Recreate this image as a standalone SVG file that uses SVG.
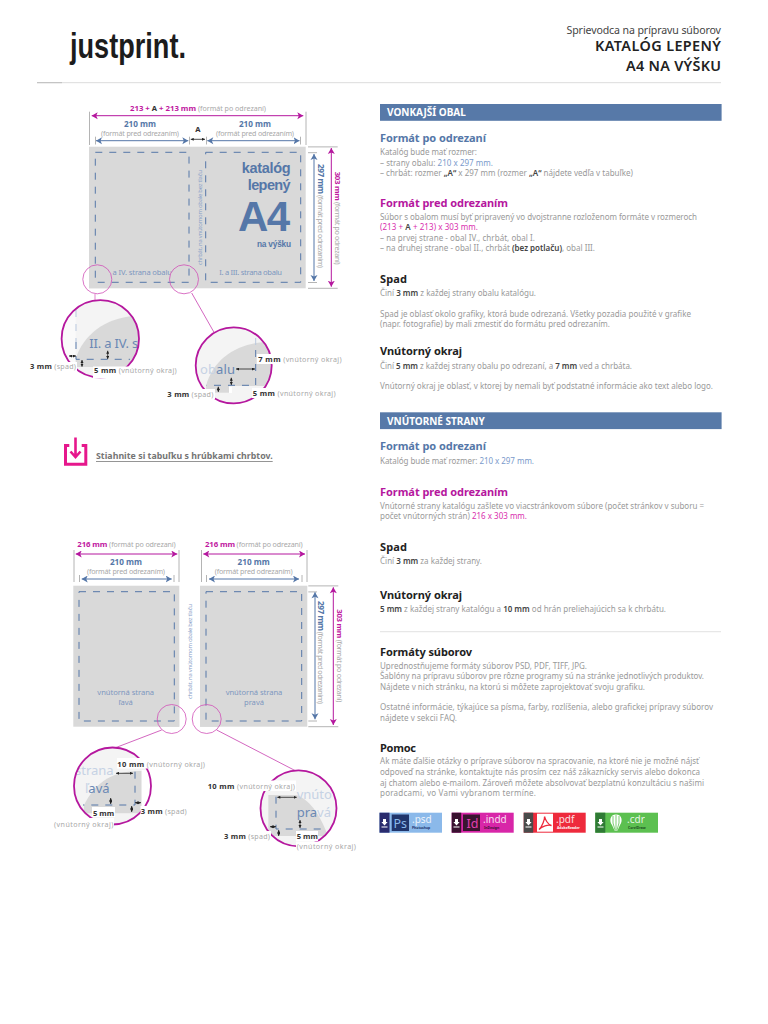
<svg xmlns="http://www.w3.org/2000/svg" width="768" height="1024" viewBox="0 0 768 1024">
<style>
text{font-family:"Noto Sans","Liberation Sans",sans-serif}
.b{font-size:8px;fill:#999}
.hb{font-size:11px;font-weight:700;fill:#5577a8}
.hm{font-size:11px;font-weight:700;fill:#b5179e}
.hd{font-size:11px;font-weight:700;fill:#222}
.bar{fill:#5779a8}
.bt{font-size:10px;font-weight:700;fill:#fff}
.k{fill:#444;font-weight:600}
.bl{fill:#7a9acb}
.mg{fill:#d92fae}
.lb{font-size:7.1px;fill:#a8a8a8}
.lk{fill:#333;font-weight:700;font-size:7.6px}
.dm{fill:#c0189f;font-weight:700;font-size:7.8px}
.db{fill:#5577a8;font-weight:700;font-size:8.2px}
.sheet{fill:#d9d9d9}
.dash{fill:none;stroke:#5577a8;stroke-width:1;stroke-dasharray:7 7}
.dashl{fill:none;stroke:#b9c8de;stroke-width:1;stroke-dasharray:7 7}
.sl{font-size:7.6px;fill:#7d97bf}
.sp{font-size:6px;fill:#8aa2c8}
.tick{stroke:#b4b4b4;stroke-width:1;fill:none}
.am{stroke:#b5179e;stroke-width:1;fill:none;marker-start:url(#ms);marker-end:url(#me)}
.ab{stroke:#5577a8;stroke-width:1;fill:none;marker-start:url(#bs);marker-end:url(#be)}
.ak{stroke:#222;stroke-width:.8;fill:none;marker-start:url(#ks);marker-end:url(#ke)}
.sc{fill:none;stroke:#d050b8;stroke-width:.8}
.bc{fill:none;stroke:#b5179e;stroke-width:1.8}
.cn{fill:none;stroke:#c840b0;stroke-width:.8}
.z{font-size:13px;fill:#6a88b4}
.zf{fill:#c6d2e4}
.w{fill:#fff}
.ext{font-size:10px;fill:#fff;opacity:.85}
.tiny{font-size:3.4px;font-weight:700}
.big{font-family:"Liberation Sans",sans-serif;font-weight:700;fill:#5577a8;text-anchor:end}
</style>
<defs>
<marker id="me" markerUnits="userSpaceOnUse" markerWidth="8" markerHeight="8" refX="6" refY="3.5" orient="auto"><path d="M0 0L6 3.5L0 7L1.5 3.5Z" fill="#b5179e"/></marker>
<marker id="ms" markerUnits="userSpaceOnUse" markerWidth="8" markerHeight="8" refX="0" refY="3.5" orient="auto"><path d="M6 0L0 3.5L6 7L4.5 3.5Z" fill="#b5179e"/></marker>
<marker id="be" markerUnits="userSpaceOnUse" markerWidth="8" markerHeight="8" refX="6" refY="3.5" orient="auto"><path d="M0 0L6 3.5L0 7L1.5 3.5Z" fill="#5577a8"/></marker>
<marker id="bs" markerUnits="userSpaceOnUse" markerWidth="8" markerHeight="8" refX="0" refY="3.5" orient="auto"><path d="M6 0L0 3.5L6 7L4.5 3.5Z" fill="#5577a8"/></marker>
<marker id="ke" markerUnits="userSpaceOnUse" markerWidth="5" markerHeight="5" refX="3" refY="1.5" orient="auto"><path d="M0 0L3 1.5L0 3Z" fill="#222"/></marker>
<marker id="ks" markerUnits="userSpaceOnUse" markerWidth="5" markerHeight="5" refX="0" refY="1.5" orient="auto"><path d="M3 0L0 1.5L3 3Z" fill="#222"/></marker>
<clipPath id="s1"><rect x="89" y="146.7" width="216.7" height="141.6"/></clipPath>
<clipPath id="s2"><rect x="73.3" y="585.7" width="106" height="141"/></clipPath>
<clipPath id="s3"><rect x="200" y="585.7" width="107.3" height="141"/></clipPath>
<clipPath id="c1"><circle cx="100.3" cy="338.8" r="38.7"/></clipPath>
<clipPath id="c2"><circle cx="233.7" cy="365.4" r="38"/></clipPath>
<clipPath id="c3"><circle cx="112.5" cy="786" r="38.5"/></clipPath>
<clipPath id="c4"><circle cx="298.5" cy="808.3" r="38"/></clipPath>
</defs>

<g id="header">
<text x="70" y="58" font-size="35" font-weight="700" fill="#1c1c1c" textLength="116" lengthAdjust="spacingAndGlyphs" style="font-family:'Liberation Sans',sans-serif">justprint.</text>
<text x="721" y="34" text-anchor="end" font-size="10.6" fill="#444" textLength="154.500">Sprievodca na prípravu súborov</text>
<text x="721" y="51" text-anchor="end" font-size="14.4" font-weight="600" fill="#222" textLength="126">KATALÓG LEPENÝ</text>
<text x="721" y="70.500" text-anchor="end" font-size="14.4" font-weight="600" fill="#222" textLength="95">A4 NA VÝŠKU</text>
<rect x="37" y="82" width="684" height="1.2" fill="#e2e2e2"/>
<rect x="37" y="82" width="25" height="1.2" fill="#c4c4c4"/>
</g>

<g id="text-outer">
<rect class="bar" x="380" y="104" width="341.6" height="16.8"/>
<text class="bt" x="387" y="116">VONKAJŠÍ OBAL</text>
<text class="hb" x="380" y="141.500" textLength="106">Formát po odrezaní</text>
<text class="b" x="380" y="155" textLength="97">Katalóg bude mať rozmer:</text>
<text class="b" x="380" y="165.500" textLength="113">– strany obalu: <tspan class="bl">210 x 297 mm.</tspan></text>
<text class="b" x="380" y="176" textLength="253">– chrbát: rozmer <tspan class="k">„A“</tspan> x 297 mm (rozmer <tspan class="k">„A“</tspan> nájdete vedľa v tabuľke)</text>
<text class="hm" x="380" y="206.700" textLength="128">Formát pred odrezaním</text>
<text class="b" x="380" y="220" textLength="317">Súbor s obalom musí byť pripravený vo dvojstranne rozloženom formáte v rozmeroch</text>
<text class="b" x="380" y="230" textLength="98"><tspan class="mg">(213 + </tspan><tspan class="k">A</tspan><tspan class="mg"> + 213) x 303 mm.</tspan></text>
<text class="b" x="380" y="240.500" textLength="155">– na prvej strane - obal IV., chrbát, obal I.</text>
<text class="b" x="380" y="251" textLength="215">– na druhej strane - obal II., chrbát <tspan class="k">(bez potlaču)</tspan>, obal III.</text>
<text class="hd" x="380" y="282.700" textLength="27">Spad</text>
<text class="b" x="380" y="296" textLength="156">Činí <tspan class="k">3 mm</tspan> z každej strany obalu katalógu.</text>
<text class="b" x="380" y="316.700" textLength="311">Spad je oblasť okolo grafiky, ktorá bude odrezaná. Všetky pozadia použité v grafike</text>
<text class="b" x="380" y="327" textLength="230">(napr. fotografie) by mali zmestiť do formátu pred odrezaním.</text>
<text class="hd" x="380" y="355" textLength="82">Vnútorný okraj</text>
<text class="b" x="380" y="369" textLength="252">Činí <tspan class="k">5 mm</tspan> z každej strany obalu po odrezaní, a <tspan class="k">7 mm</tspan> ved a chrbáta.</text>
<text class="b" x="380" y="389" textLength="333">Vnútorný okraj je oblasť, v ktorej by nemali byť podstatné informácie ako text alebo logo.</text>
</g>

<g id="text-inner">
<rect class="bar" x="380" y="412.3" width="341.6" height="16.8"/>
<text class="bt" x="387" y="425">VNÚTORNÉ STRANY</text>
<text class="hb" x="380" y="450" textLength="106">Formát po odrezaní</text>
<text class="b" x="380" y="464" textLength="154">Katalóg bude mať rozmer: <tspan class="bl">210 x 297 mm.</tspan></text>
<text class="hm" x="380" y="495.700" textLength="128">Formát pred odrezaním</text>
<text class="b" x="380" y="509" textLength="324">Vnútorné strany katalógu zašlete vo viacstránkovom súbore (počet stránkov v suboru =</text>
<text class="b" x="380" y="519.300" textLength="147">počet vnútorných strán) <tspan class="mg">216 x 303 mm.</tspan></text>
<text class="hd" x="380" y="550.700" textLength="27">Spad</text>
<text class="b" x="380" y="564" textLength="102">Činí <tspan class="k">3 mm</tspan> za každej strany.</text>
<text class="hd" x="380" y="599" textLength="82">Vnútorný okraj</text>
<text class="b" x="380" y="612.300" textLength="286"><tspan class="k">5 mm</tspan> z každej strany katalógu a <tspan class="k">10 mm</tspan> od hrán preliehajúcich sa k chrbátu.</text>
<rect x="380" y="631.200" width="341" height="1" fill="#e2e2e2"/>
<text class="hd" x="380" y="655.700" textLength="92">Formáty súborov</text>
<text class="b" x="380" y="669" textLength="207">Uprednostňujeme formáty súborov PSD, PDF, TIFF, JPG.</text>
<text class="b" x="380" y="679.300" textLength="324">Šablóny na prípravu súborov pre rôzne programy sú na stránke jednotlivých produktov.</text>
<text class="b" x="380" y="690" textLength="265">Nájdete v nich stránku, na ktorú si môžete zaprojektovať svoju grafiku.</text>
<text class="b" x="380" y="710" textLength="333">Ostatné informácie, týkajúce sa písma, farby, rozlíšenia, alebo grafickej prípravy súborov</text>
<text class="b" x="380" y="720.700" textLength="77">nájdete v sekcii FAQ.</text>
<text class="hd" x="380" y="751.700" textLength="36">Pomoc</text>
<text class="b" x="380" y="764.300" textLength="319">Ak máte ďalšie otázky o príprave súborov na spracovanie, na ktoré nie je možné nájsť</text>
<text class="b" x="380" y="775" textLength="320">odpoveď na stránke, kontaktujte nás prosím cez náš zákaznícky servis alebo dokonca</text>
<text class="b" x="380" y="785.700" textLength="324">aj chatom alebo e-mailom. Zároveň môžete absolvovať bezplatnú konzultáciu s našimi</text>
<text class="b" x="380" y="796.300" textLength="156">poradcami, vo Vami vybranom termíne.</text>
</g>

<g id="icon-psd">
<rect x="379.500" y="812.700" width="62.500" height="20" fill="#8bb9ea"/>
<rect x="379.500" y="812.700" width="10" height="20" fill="#2a2c6e"/>
<path d="M383 819h3v3h1.600l-3.100 3.400-3.100-3.400H383zM381.500 826.500h6v1h-6z" fill="#fff"/>
<rect x="391.700" y="814.500" width="17.300" height="16.500" fill="#20356b"/>
<text x="393.500" y="827.500" font-size="12.500" fill="#8bb9ea">Ps</text>
<text class="ext" x="412" y="823">.psd</text>
<text class="tiny" x="412" y="829" fill="#20356b">Photoshop</text>
</g>
<g id="icon-indd">
<rect x="451.700" y="812.700" width="62" height="20" fill="#d826a8"/>
<rect x="451.700" y="812.700" width="9.500" height="20" fill="#3a1030"/>
<path d="M455 819h3v3h1.600l-3.100 3.400-3.100-3.400H455zM453.500 826.500h6v1h-6z" fill="#fff"/>
<rect x="463" y="814.500" width="17" height="16.500" fill="#3a1530"/>
<text x="466.500" y="827.500" font-size="12.500" fill="#e040b0">Id</text>
<text class="ext" x="483" y="823">.indd</text>
<text class="tiny" x="484" y="829" fill="#3a1030">InDesign</text>
</g>
<g id="icon-pdf">
<rect x="523.700" y="812.700" width="62" height="20" fill="#ee2a3c"/>
<rect x="523.700" y="812.700" width="9.500" height="20" fill="#4a4a4a"/>
<path d="M527 819h3v3h1.600l-3.100 3.400-3.100-3.400H527zM525.500 826.500h6v1h-6z" fill="#fff"/>
<rect x="537" y="813.700" width="16" height="18" fill="#fff"/>
<path d="M539 829.500C542 827 545 819 544.500 816.500C545 819 548 825 551.500 825.500C548 824.500 542 826 539 829.500Z" fill="none" stroke="#ee2a3c" stroke-width="1.300"/>
<text class="ext" x="556" y="823">.pdf</text>
<text class="tiny" x="557" y="829" fill="#fff">AdobeReader</text>
</g>
<g id="icon-cdr">
<rect x="595.300" y="812.700" width="62.700" height="20" fill="#5cc050"/>
<rect x="595.300" y="812.700" width="10" height="20" fill="#2f7a35"/>
<path d="M599 819h3v3h1.600l-3.100 3.400-3.100-3.400H599zM597.500 826.500h6v1h-6z" fill="#fff"/>
<path d="M616 814.500C610 814.500 609 821 612 825L614.500 830.500H617.500L620 825C623 821 622 814.500 616 814.500Z" fill="#fff"/>
<path d="M616 815V830M613 816Q612 823 615 830M619 816Q620 823 617 830" fill="none" stroke="#5cc050" stroke-width=".8"/>
<text class="ext" x="627" y="823">.cdr</text>
<text class="tiny" x="628" y="829" fill="#1d4d22">CorelDraw</text>
</g>

<g id="sheet-cover">
<rect class="sheet" x="89" y="146.700" width="216.700" height="141.600"/>
<text class="sl" x="104" y="275" textLength="68">II. a IV. strana obalu</text>
<text class="sl" x="219.300" y="275" textLength="62.700">I. a III. strana obalu</text>
<circle cx="97.300" cy="279.300" r="14.500" fill="#d9d9d9" clip-path="url(#s1)"/>
<circle cx="184" cy="279.300" r="14.500" fill="#d9d9d9" clip-path="url(#s1)"/>
<rect class="dash" x="95.300" y="152.300" width="93.700" height="130"/>
<rect class="dash" x="205.700" y="152.300" width="95" height="130"/>
<text class="big" x="290.700" y="173.300" font-size="14.500" textLength="49">katalóg</text>
<text class="big" x="290.700" y="190" font-size="14.500" textLength="43">lepený</text>
<text class="big" x="290" y="230.700" font-size="42" textLength="52">A4</text>
<text class="big" x="291" y="247.300" font-size="8.300" textLength="34">na výšku</text>
<text class="sp" transform="translate(201.500 265) rotate(-90)" textLength="95">chrbát, na vnútornom obale bez tlaču</text>
</g>

<g id="dim-cover">
<path class="tick" d="M89.500 111.700V145M306 111.700V145M95.500 136.700V144.500M189.500 136.700V144.500M206.500 136.700V144.500M300.500 136.700V144.500M308 146.900H337.700M308 288.300H337.700M308 152.700H317M308 282.500H317"/>
<line class="am" x1="91.700" y1="115.700" x2="303.300" y2="115.700"/>
<line class="ab" x1="96" y1="140.700" x2="188.300" y2="140.700"/>
<line class="ab" x1="207.300" y1="140.700" x2="299.500" y2="140.700"/>
<line class="ak" x1="190.700" y1="139.300" x2="205" y2="139.300"/>
<line class="ab" x1="314" y1="154" x2="314" y2="281"/>
<line class="am" x1="331.300" y1="148" x2="331.300" y2="286.700"/>
<text class="lb" x="130" y="110.700" textLength="136"><tspan class="dm">213 + </tspan><tspan class="lk">A</tspan><tspan class="dm"> + 213 mm</tspan> (formát po odrezaní)</text>
<text class="db" x="140" y="126.700" text-anchor="middle">210 mm</text>
<text class="lb" x="140" y="135.700" text-anchor="middle" textLength="78">(formát pred odrezaním)</text>
<text class="db" x="255" y="126.700" text-anchor="middle">210 mm</text>
<text class="lb" x="255" y="135.700" text-anchor="middle" textLength="78">(formát pred odrezaním)</text>
<text class="lk" x="198" y="132.300" text-anchor="middle">A</text>
<text class="lb" transform="translate(317.500 164) rotate(90)" textLength="104"><tspan class="db">297 mm</tspan> (formát pred odrezaním)</text>
<text class="lb" transform="translate(334.500 171.700) rotate(90)" textLength="93"><tspan class="dm">303 mm</tspan> (formát po odrezaní)</text>
</g>

<g id="download">
<path d="M69.300 445.500H65.500V464.200H85.800V445.500H81.700" fill="none" stroke="#e6178c" stroke-width="3"/>
<path d="M75.500 437.500V456.500M70.500 451.500L75.500 457L80.500 451.500" fill="none" stroke="#e6178c" stroke-width="2.600"/>
<text x="96" y="459" font-size="8.800" font-weight="700" fill="#757575" textLength="176.700">Stiahnite si tabuľku s hrúbkami chrbtov.</text>
<rect x="96" y="461" width="176.700" height=".9" fill="#8a8a8a"/>
</g>

<g id="sheet-left">
<rect class="sheet" x="73.300" y="585.700" width="106" height="141"/>
<text class="sl" x="125.700" y="695" text-anchor="middle" textLength="56.700">vnútorná strana</text>
<text class="sl" x="125.700" y="705" text-anchor="middle">ľavá</text>
<circle cx="171.700" cy="719" r="14.500" fill="#d9d9d9" clip-path="url(#s2)"/>
<rect class="dash" x="79" y="591.700" width="95.300" height="129.300"/>
</g>
<g id="sheet-right">
<rect class="sheet" x="200" y="585.700" width="107.300" height="141"/>
<text class="sl" x="254" y="695" text-anchor="middle" textLength="56.700">vnútorná strana</text>
<text class="sl" x="254" y="705" text-anchor="middle">pravá</text>
<circle cx="206.700" cy="719" r="14.500" fill="#d9d9d9" clip-path="url(#s3)"/>
<rect class="dash" x="206" y="591.700" width="95.700" height="129.300"/>
</g>
<text class="sp" transform="translate(191.700 699) rotate(-90)" textLength="95">chrbát, na vnútornom obale bez tlaču</text>

<g id="dim-inner">
<path class="tick" d="M74 550V582M179 550V582M201.500 550V582M307 550V582M79.500 575V582M174 575V582M206.500 575V582M302 575V582M308.300 585.900H338.300M308.300 726.700H338.300M308.300 591.900H317M308.300 721H317"/>
<line class="am" x1="75.700" y1="554" x2="177.300" y2="554"/>
<line class="am" x1="203.300" y1="554" x2="305" y2="554"/>
<line class="ab" x1="81.700" y1="579" x2="171.700" y2="579"/>
<line class="ab" x1="209" y1="579" x2="299" y2="579"/>
<line class="ab" x1="315" y1="592.300" x2="315" y2="719.300"/>
<line class="am" x1="333.300" y1="587.300" x2="333.300" y2="725"/>
<text class="lb" x="77.300" y="546.700" textLength="98.400"><tspan class="dm">216 mm</tspan> (formát po odrezaní)</text>
<text class="lb" x="205" y="546.700" textLength="97.700"><tspan class="dm">216 mm</tspan> (formát po odrezaní)</text>
<text class="db" x="126" y="564.700" text-anchor="middle">210 mm</text>
<text class="lb" x="126" y="574.300" text-anchor="middle" textLength="78">(formát pred odrezaním)</text>
<text class="db" x="253.700" y="564.700" text-anchor="middle">210 mm</text>
<text class="lb" x="253.700" y="574.300" text-anchor="middle" textLength="78">(formát pred odrezaním)</text>
<text class="lb" transform="translate(318 601) rotate(90)" textLength="103"><tspan class="db">297 mm</tspan> (formát pred odrezaním)</text>
<text class="lb" transform="translate(336.700 609.300) rotate(90)" textLength="93"><tspan class="dm">303 mm</tspan> (formát po odrezaní)</text>
</g>

<g id="connectors">
<circle class="sc" cx="97.300" cy="279.300" r="14.500"/>
<circle class="sc" cx="184" cy="279.300" r="14.500"/>
<circle class="sc" cx="171.700" cy="719" r="14.500"/>
<circle class="sc" cx="206.700" cy="719" r="14.500"/>
<line x1="95" y1="293.800" x2="95" y2="301" stroke="#e8a0d8" stroke-width="1.300"/>
<line class="cn" x1="191.700" y1="293" x2="214" y2="332.300"/>
<line class="cn" x1="161.700" y1="730" x2="116" y2="747.500"/>
<line class="cn" x1="216.700" y1="730" x2="297.300" y2="771.700"/>
</g>

<g id="zoom-1">
<g clip-path="url(#c1)">
<rect x="60" y="299" width="82" height="80" fill="#f4f4f4"/>
<rect x="60" y="299" width="15.700" height="80" fill="#fafafa"/>
<path d="M75.700 359C83 335 105 318 134 316L142 316V367H75.700Z" fill="#d9d9d9"/>
<path class="dashl" d="M76 310V342"/>
<path class="dash" d="M76 342V359.300H130"/>
<text class="z" x="89.300" y="347.700" textLength="49">II. a IV. s</text>
</g>
<circle class="bc" cx="100.300" cy="338.800" r="38.700"/>
<rect class="w" x="28" y="362" width="49" height="10"/>
<rect class="w" x="93" y="366.500" width="85" height="12"/>
<line class="ak" x1="107.700" y1="350.700" x2="107.700" y2="359"/>
<line class="ak" x1="82" y1="360" x2="82" y2="366.700"/>
<line class="ak" x1="69" y1="356" x2="76" y2="356"/>
<text class="lb" x="30" y="369.300" textLength="46"><tspan class="lk">3 mm</tspan> (spad)</text>
<text class="lb" x="94" y="373.300" textLength="82.700"><tspan class="lk">5 mm</tspan> (vnútorný okraj)</text>
</g>

<g id="zoom-2">
<g clip-path="url(#c2)">
<rect x="190" y="325" width="90" height="80" fill="#f4f4f4"/>
<path d="M206 386C212 362 232 347 256 343L280 340V386Z" fill="#d9d9d9"/>
<rect x="206" y="385" width="23" height="7.700" fill="#d9d9d9"/>
<path class="dashl" d="M255.700 338V350"/>
<path class="dash" d="M255.700 350V385.300H206.700"/>
<text class="z" x="200" y="374" textLength="35"><tspan class="zf">ob</tspan>alu</text>
</g>
<circle class="bc" cx="233.700" cy="365.400" r="38"/>
<rect class="w" x="256.700" y="354" width="20" height="10"/>
<rect class="w" x="229" y="387" width="3" height="6"/>
<rect class="w" x="252" y="388" width="24" height="10"/>
<rect class="w" x="167" y="389" width="48" height="10"/>
<line class="ak" x1="236" y1="369" x2="255" y2="369"/>
<line class="ak" x1="231.300" y1="377.700" x2="231.300" y2="385"/>
<line class="ak" x1="218.300" y1="386.700" x2="218.300" y2="392"/>
<text class="lb" x="258.300" y="361.700" textLength="83.400"><tspan class="lk">7 mm</tspan> (vnútorný okraj)</text>
<text class="lb" x="252.700" y="396" textLength="83"><tspan class="lk">5 mm</tspan> (vnútorný okraj)</text>
<text class="lb" x="167.300" y="397" textLength="46"><tspan class="lk">3 mm</tspan> (spad)</text>
</g>

<g id="zoom-3">
<g clip-path="url(#c3)">
<rect x="70" y="745" width="85" height="80" fill="#f4f4f4"/>
<path d="M84 805C94 785 110 770 141.700 771V813.300H84Z" fill="#d9d9d9"/>
<rect x="141.700" y="770" width="15" height="50" fill="#fff"/>
<path class="dash" d="M135 771.700V805H83"/>
<text class="z" x="75" y="775"><tspan class="zf">strana</tspan></text>
<text class="z" x="85" y="792.700"><tspan class="zf">ľ</tspan>avá</text>
</g>
<circle class="bc" cx="112.500" cy="786" r="38.500"/>
<rect class="w" x="117" y="758" width="89" height="10.500"/>
<rect class="w" x="92" y="807" width="23" height="10"/>
<rect class="w" x="54" y="818" width="60" height="10.500"/>
<rect class="w" x="140.500" y="806" width="47" height="10"/>
<line class="ak" x1="116" y1="773.300" x2="133" y2="773.300"/>
<line class="ak" x1="110.700" y1="798" x2="110.700" y2="804"/>
<line class="ak" x1="131.700" y1="806" x2="131.700" y2="812"/>
<line class="ak" x1="135" y1="802.700" x2="141" y2="802.700"/>
<text class="lb" x="117.300" y="767.300" textLength="87.700"><tspan class="lk">10 mm</tspan> (vnútorný okraj)</text>
<text class="lb" x="140.700" y="814" textLength="46"><tspan class="lk">3 mm</tspan> (spad)</text>
<text class="lk" x="93" y="815.700">5 mm</text>
<text class="lb" x="54" y="826.700" textLength="59.300">(vnútorný okraj)</text>
</g>

<g id="zoom-4">
<g clip-path="url(#c4)">
<rect x="255" y="768" width="85" height="80" fill="#f4f4f4"/>
<path d="M268.300 795H296C312 800 322 820 328 836H268.300Z" fill="#d9d9d9"/>
<path class="dash" d="M276 796.700V829H326.700"/>
<text class="z" x="296.700" y="799.300"><tspan class="zf">vnúto</tspan></text>
<text class="z" x="296.700" y="817.300">pra<tspan class="zf">vá</tspan></text>
</g>
<circle class="bc" cx="298.500" cy="808.300" r="38"/>
<rect class="w" x="207" y="780.500" width="89" height="10.500"/>
<rect class="w" x="224" y="831" width="47" height="10"/>
<rect class="w" x="296" y="831" width="22" height="10"/>
<rect class="w" x="296" y="841.500" width="60" height="10"/>
<line class="ak" x1="277.300" y1="797.300" x2="296.700" y2="797.300"/>
<line class="ak" x1="300" y1="820" x2="300" y2="828"/>
<line class="ak" x1="270" y1="826.700" x2="276" y2="826.700"/>
<line class="ak" x1="278.700" y1="830" x2="278.700" y2="836"/>
<text class="lb" x="207.700" y="789.300" textLength="87.300"><tspan class="lk">10 mm</tspan> (vnútorný okraj)</text>
<text class="lb" x="224" y="839" textLength="46"><tspan class="lk">3 mm</tspan> (spad)</text>
<text class="lk" x="296.700" y="839.300">5 mm</text>
<text class="lb" x="296.700" y="849.300" textLength="59.300">(vnútorný okraj)</text>
</g>
</svg>
